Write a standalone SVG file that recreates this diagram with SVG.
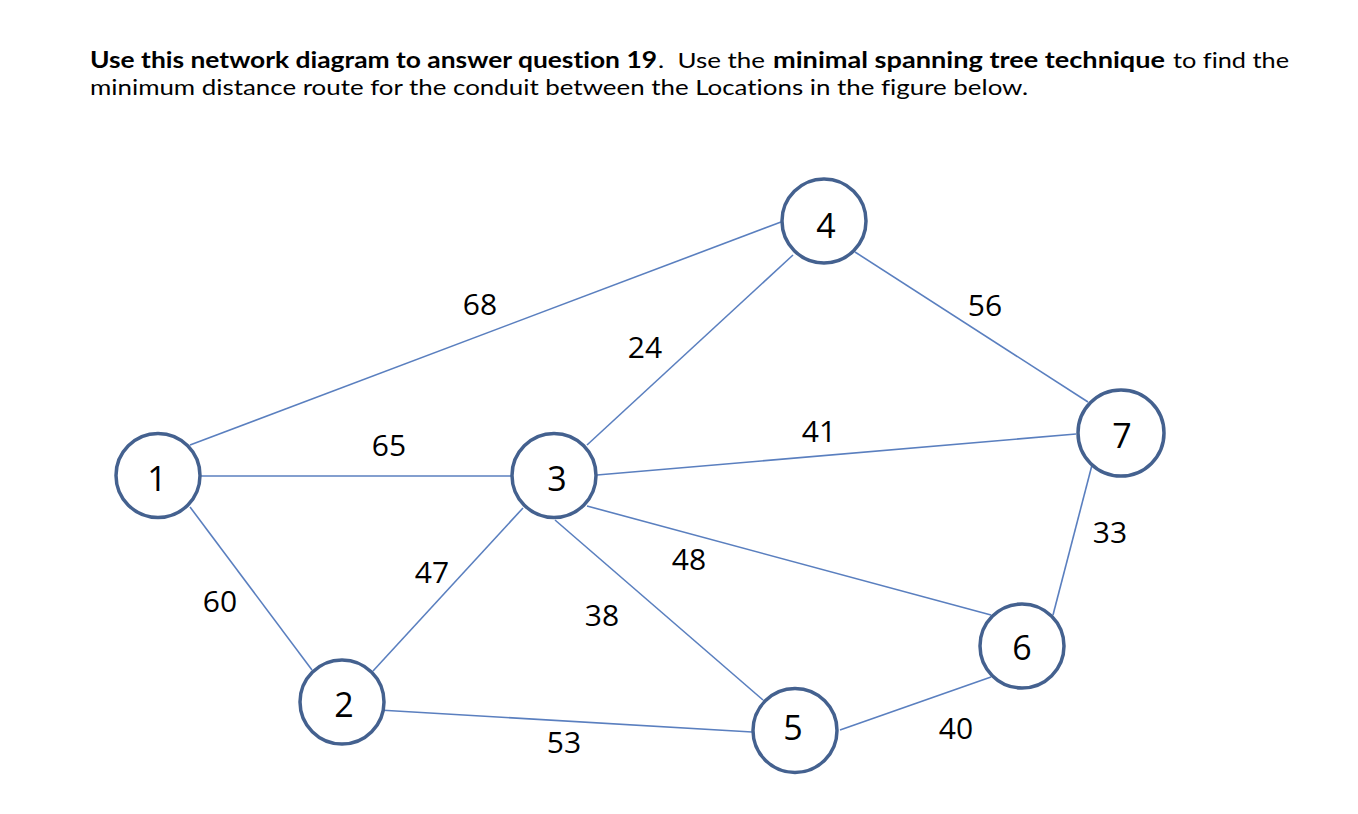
<svg xmlns="http://www.w3.org/2000/svg" width="1358" height="814" viewBox="0 0 1358 814">
<style>
.title{font-family:Lato,"Open Sans","Liberation Sans",sans-serif;font-size:22px;fill:#000;white-space:pre;font-variant-ligatures:none;font-feature-settings:"liga" 0}
.b{font-weight:bold}
.edge{stroke:#5a7fbf;stroke-width:1.6;fill:none}
.node circle{fill:#fff;stroke:#44618f;stroke-width:3.5}
.node text{font-family:"Open Sans","Liberation Sans",sans-serif;font-size:34px;fill:#000;text-anchor:middle}
.lbl{font-family:"Open Sans","Liberation Sans",sans-serif;font-size:30px;fill:#000;text-anchor:middle}
</style>
<rect width="1358" height="814" fill="#fff"/>
<g id="title">
<text class="title b" x="90" y="68" textLength="567" lengthAdjust="spacingAndGlyphs">Use this network diagram to answer question 19</text>
<text class="title" x="658" y="68" textLength="107" lengthAdjust="spacingAndGlyphs" xml:space="preserve">.  Use the</text>
<text class="title b" x="773" y="68" textLength="392" lengthAdjust="spacingAndGlyphs">minimal spanning tree technique</text>
<text class="title" x="1173" y="68" textLength="116" lengthAdjust="spacingAndGlyphs">to find the</text>
<text class="title" x="90" y="95" textLength="938" lengthAdjust="spacingAndGlyphs">minimum distance route for the conduit between the Locations in the figure below.</text>
</g>
<g id="connectors">
<line class="edge" x1="190" y1="445" x2="781" y2="222"/>
<line class="edge" x1="201" y1="476" x2="511" y2="476"/>
<line class="edge" x1="190" y1="507" x2="312" y2="670"/>
<line class="edge" x1="523" y1="508" x2="373" y2="671"/>
<line class="edge" x1="379" y1="710" x2="752" y2="732"/>
<line class="edge" x1="555" y1="520" x2="763" y2="700"/>
<line class="edge" x1="587" y1="445" x2="793" y2="255"/>
<line class="edge" x1="597" y1="475" x2="1076" y2="434"/>
<line class="edge" x1="587" y1="506" x2="991" y2="615"/>
<line class="edge" x1="855" y1="252" x2="1088" y2="402"/>
<line class="edge" x1="1092" y1="465" x2="1053" y2="615"/>
<line class="edge" x1="840" y1="730" x2="991" y2="677"/>
<text class="lbl" x="480" y="315">68</text>
<text class="lbl" x="645" y="358">24</text>
<text class="lbl" x="389" y="456">65</text>
<text class="lbl" x="220" y="612">60</text>
<text class="lbl" x="432" y="583">47</text>
<text class="lbl" x="602" y="626">38</text>
<text class="lbl" x="564" y="753">53</text>
<text class="lbl" x="985" y="316">56</text>
<text class="lbl" x="819" y="442">41</text>
<text class="lbl" x="1110" y="543">33</text>
<text class="lbl" x="956" y="739">40</text>
<text class="lbl" x="689" y="570">48</text>
</g>
<g id="node1" class="node"><circle cx="158" cy="475.5" r="42"/><text x="157" y="491">1</text></g>
<g id="node2" class="node"><circle cx="342" cy="702" r="42"/><text x="344" y="717">2</text></g>
<g id="node3" class="node"><circle cx="554" cy="475.5" r="42"/><text x="557" y="491">3</text></g>
<g id="node4" class="node"><circle cx="824" cy="221" r="42"/><text x="826" y="238">4</text></g>
<g id="node5" class="node"><circle cx="795" cy="730.5" r="42"/><text x="793" y="740">5</text></g>
<g id="node6" class="node"><circle cx="1022" cy="646" r="42"/><text x="1022" y="660">6</text></g>
<g id="node7" class="node"><circle cx="1121" cy="433" r="43"/><text x="1122" y="448">7</text></g>
</svg>
